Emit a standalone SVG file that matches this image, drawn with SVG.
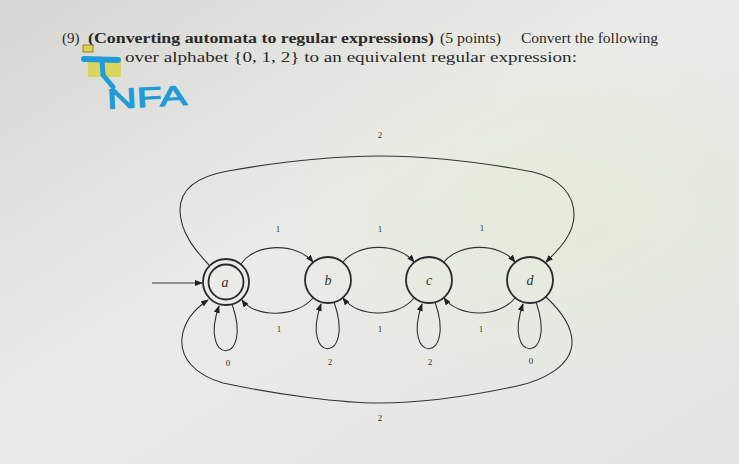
<svg xmlns="http://www.w3.org/2000/svg" width="739" height="464" viewBox="0 0 739 464">
  <defs>
    <linearGradient id="bg" x1="0" y1="0" x2="1" y2="1">
      <stop offset="0" stop-color="#d6d6d3"/>
      <stop offset="0.45" stop-color="#ebebe8"/>
      <stop offset="1" stop-color="#e4e5e2"/>
    </linearGradient>
    <radialGradient id="tint" cx="0.75" cy="0.45" r="0.4">
      <stop offset="0" stop-color="#e6ecd8" stop-opacity="0.8"/>
      <stop offset="1" stop-color="#e6ecd8" stop-opacity="0"/>
    </radialGradient>
    <marker id="arr" markerWidth="8" markerHeight="6" refX="7" refY="3" orient="auto" markerUnits="userSpaceOnUse">
      <path d="M0,0 L8,3 L0,6 Z" fill="#222"/>
    </marker>
    <style>
      .st { fill: none; stroke: #2b2b2b; stroke-width: 1.8; }
      .ed { fill: none; stroke: #333; stroke-width: 1.1; }
      .lbl { font-family: "Liberation Serif", "DejaVu Serif", serif; font-size: 9px; fill: #333; text-anchor: middle; }
      .nl { font-family: "Liberation Serif", "DejaVu Serif", serif; font-size: 14px; font-style: italic; fill: #333; text-anchor: middle; }
      .hd { font-family: "Liberation Serif", "DejaVu Serif", serif; font-size: 15px; fill: #2a2a2a; }
      .blue { fill: none; stroke: #1f9bd7; stroke-linecap: round; stroke-linejoin: round; }
    </style>
  </defs>
  <rect width="739" height="464" fill="url(#bg)"/>
  <rect width="739" height="464" fill="url(#tint)"/>

  <!-- header -->
  <g id="header">
    <text class="hd" x="62" y="43">(9)</text>
    <text class="hd" x="88" y="43" font-weight="bold" textLength="346" lengthAdjust="spacingAndGlyphs">(Converting automata to regular expressions)</text>
    <text class="hd" x="440" y="43" textLength="61" lengthAdjust="spacingAndGlyphs">(5 points)</text>
    <text class="hd" x="521" y="43" fill="#444" textLength="137" lengthAdjust="spacingAndGlyphs">Convert the following</text>
    <text class="hd" x="125" y="62" fill="#3a3a3a" textLength="452" lengthAdjust="spacingAndGlyphs">over alphabet {0, 1, 2} to an equivalent regular expression:</text>
  </g>

  <!-- annotation -->
  <g id="annotation">
    <rect x="88" y="58" width="33" height="19" fill="#d9d44a" opacity="0.85"/>
    <rect x="83" y="45" width="10" height="7" fill="#dcd24e" stroke="#8a6a2a" stroke-width="0.8"/>
    <path class="blue" stroke-width="6" d="M84 59 L118 60"/>
    <path class="blue" stroke-width="5" d="M102 60 L103 75 L113 87"/>
    <text x="107" y="107" font-family="Liberation Sans, Arial, sans-serif" font-size="28" fill="#1f9bd7" stroke="#1f9bd7" stroke-width="1" textLength="80" lengthAdjust="spacingAndGlyphs" transform="rotate(-3 147 97)">NFA</text>
  </g>

  <!-- connectors -->
  <g id="edges">
    <path class="ed" d="M152 283 L202 283" marker-end="url(#arr)"/>
    <!-- top forward arcs -->
    <path class="ed" d="M241 264 C255 243, 296 242, 313 262" marker-end="url(#arr)"/>
    <path class="ed" d="M343 262 C358 243, 398 242, 414 262" marker-end="url(#arr)"/>
    <path class="ed" d="M444 262 C459 243, 499 242, 515 262" marker-end="url(#arr)"/>
    <!-- bottom backward arcs -->
    <path class="ed" d="M313 298 C296 318, 255 318, 242 300" marker-end="url(#arr)"/>
    <path class="ed" d="M414 298 C398 318, 358 318, 343 298" marker-end="url(#arr)"/>
    <path class="ed" d="M515 298 C499 318, 459 318, 444 298" marker-end="url(#arr)"/>
    <!-- self loops -->
    <path class="ed" d="M232 304 C254 366, 198 366, 219 306" marker-end="url(#arr)"/>
    <path class="ed" d="M334 302 C356 364, 300 364, 321 304" marker-end="url(#arr)"/>
    <path class="ed" d="M435 302 C457 364, 401 364, 422 304" marker-end="url(#arr)"/>
    <path class="ed" d="M536 302 C558 364, 502 364, 523 304" marker-end="url(#arr)"/>
    <!-- big top arc a -> d -->
    <path class="ed" d="M209 265 C195 250, 180 232, 180 210 C180 188, 200 176, 228 171 C290 160, 340 156, 380 156 C420 156, 470 160, 533 172 C560 178, 574 195, 574 215 C574 235, 558 250, 546 262" marker-end="url(#arr)"/>
    <!-- big bottom arc d -> a -->
    <path class="ed" d="M546 297 C560 310, 572 325, 572 342 C572 365, 545 380, 517 386 C470 396, 420 403, 380 403 C340 403, 280 395, 223 383 C195 375, 180 358, 182 338 C184 320, 196 308, 208 300" marker-end="url(#arr)"/>
    <!-- labels -->
    <text class="lbl" x="380" y="138">2</text>
    <text class="lbl" x="278" y="232">1</text>
    <text class="lbl" x="380" y="232">1</text>
    <text class="lbl" x="482" y="231">1</text>
    <text class="lbl" x="279" y="332">1</text>
    <text class="lbl" x="380" y="332">1</text>
    <text class="lbl" x="481" y="332">1</text>
    <text class="lbl" x="228" y="366">0</text>
    <text class="lbl" x="330" y="365">2</text>
    <text class="lbl" x="430" y="365">2</text>
    <text class="lbl" x="531" y="364">0</text>
    <text class="lbl" x="380" y="421">2</text>
  </g>

  <!-- nodes -->
  <g id="node-a">
    <circle class="st" cx="226" cy="282" r="23"/>
    <circle class="st" cx="226" cy="282" r="17.5"/>
    <text class="nl" x="225" y="287">a</text>
  </g>
  <g id="node-b">
    <circle class="st" cx="328" cy="280" r="23"/>
    <text class="nl" x="328" y="285">b</text>
  </g>
  <g id="node-c">
    <circle class="st" cx="429" cy="280" r="23"/>
    <text class="nl" x="429" y="285">c</text>
  </g>
  <g id="node-d">
    <circle class="st" cx="530" cy="280" r="23"/>
    <text class="nl" x="530" y="285">d</text>
  </g>
</svg>
